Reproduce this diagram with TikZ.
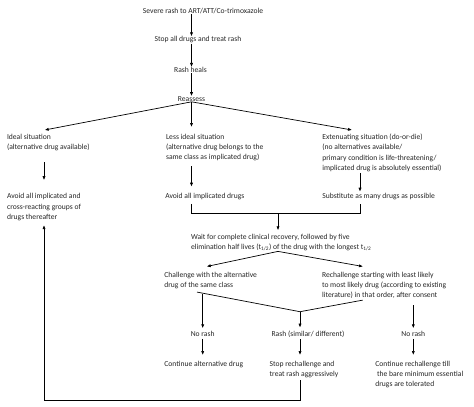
\documentclass[tikz,border=0pt]{standalone}
\usepackage{fontspec}
\setmainfont{Carlito}
\usepackage{tikz}
\usetikzlibrary{arrows.meta}
\newcommand\flowfont{\fontsize{7.6}{10.3}\selectfont}
\tikzset{
  txt/.style={inner sep=0pt, font=\flowfont, text=black!85},
  blk/.style={txt, align=left, anchor=north west},
  arr/.style={-{Latex[length=4pt,width=3.2pt]}},
}

\begin{document}
\begin{tikzpicture}[x=1pt,y=-1pt,line width=0.7pt]
  \useasboundingbox (0,0) rectangle (474,407);
  \fill[white] (0,0) rectangle (474,407);

  \node[txt] (sev) at (203,11) {Severe rash to ART/ATT/Co-trimoxazole};
  \node[txt] (stop) at (198,40) {Stop all drugs and treat rash};
  \node[txt] (heal) at (190.5,70) {Rash heals};
  \node[txt] (reas) at (191.5,99) {Reassess};

  \node[blk] (ideal) at (6.7,133.5) {Ideal situation\\(alternative drug available)};
  \node[blk] (less) at (165.7,133.5) {Less ideal situation\\(alternative drug belongs to the\\same class as implicated drug)};
  \node[blk] (ext) at (322,133.5) {Extenuating situation (do-or-die)\\(no alternatives available/\\primary condition is life-threatening/\\implicated drug is absolutely essential)};

  \node[blk] (avcr) at (6.7,193.2) {Avoid all implicated and\\cross-reacting groups of\\drugs thereafter};
  \node[blk] (avim) at (165,193.2) {Avoid all implicated drugs};
  \node[blk] (subs) at (322,193.2) {Substitute as many drugs as possible};

  \node[blk] (wait) at (190.7,233.8) {Wait for complete clinical recovery, followed by five\\elimination half lives (t\textsubscript{1/2}) of the drug with the longest t\textsubscript{1/2}};

  \node[blk] (chal) at (164,271.5) {Challenge with the alternative\\drug of the same class};
  \node[blk] (rech) at (321.7,271.5) {Rechallenge starting with least likely\\to most likely drug (according to existing\\literature) in that order, after consent};

  \node[txt] (nr1) at (202.7,334.3) {No rash};
  \node[txt] (rsim) at (308,334.3) {Rash (similar/ different)};
  \node[txt] (nr2) at (413.3,334.3) {No rash};

  \node[blk] (calt) at (164,360.5) {Continue alternative drug};
  \node[blk] (srch) at (269.3,360.5) {Stop rechallenge and\\treat rash aggressively};
  \node[blk] (crch) at (375,360.5) {Continue rechallenge till\\\ the bare minimum essential\\drugs are tolerated};

  \coordinate (colL) at (44,0);
  \coordinate (colR) at (360,0);
  \coordinate (jn) at (278,213.3);
  \coordinate (cv) at (300,311.7);
  \coordinate (lp) at (44,400);

  %top chain
  \draw[arr] (sev.south -| reas) -- (stop.north -| reas);
  \draw[arr] (stop.south -| reas) -- (heal.north -| reas);
  \draw[arr] (heal.south -| reas) -- (reas.north);

  %reassess>situations
  \draw[arr] (reas.south) -- ([xshift=38pt,yshift=3.5pt]ideal.north west);
  \draw[arr,shorten >=6.5pt] (reas.south) -- (less.north -| reas);
  \draw[arr] (reas.south) -- ([xshift=30pt,yshift=3.5pt]ext.north west);

  %situations>actions
  \draw[arr,shorten <=11pt,shorten >=13pt] (ideal.south -| colL) -- (avcr.north -| colL);
  \draw[arr,shorten <=5pt,shorten >=6.5pt] (less.south -| reas) -- (avim.north -| reas);
  \draw[arr,shorten <=1pt,shorten >=1.5pt] (ext.south -| colR) -- (subs.north -| colR);

  %merge>wait
  \draw[shorten <=3.5pt,shorten >=3.5pt] (avim.south -| reas) |- (jn) -| (subs.south -| colR);
  \draw[arr,shorten >=3.5pt] (jn) -- (wait.north -| jn);

  %wait>challenge
  \draw[arr] (wait.south -| jn) -- ([xshift=42.7pt,yshift=5pt]chal.north west);
  \draw[arr] (wait.south -| jn) -- ([xshift=41.3pt,yshift=5pt]rech.north west);

  %challenge>outcomes
  \draw ([xshift=33pt,yshift=-3pt]chal.south west) -- (cv);
  \draw ([xshift=41pt,yshift=-1pt]rech.south west) -- (cv);
  \draw[arr,shorten >=3pt] (cv) -- (rsim.north -| cv);
  \draw[arr,shorten <=5pt,shorten >=3pt] (chal.south -| nr1) -- (nr1.north);
  \draw[arr,shorten <=6pt,shorten >=3pt] (rech.south -| nr2) -- (nr2.north);

  %outcomes>actions
  \draw[arr,shorten <=1.5pt,shorten >=5.5pt] (nr1.south) -- (calt.north -| nr1);
  \draw[arr,shorten <=1.5pt,shorten >=5.5pt] (rsim.south -| cv) -- (srch.north -| cv);
  \draw[arr,shorten <=1.5pt,shorten >=5.5pt] (nr2.south) -- (crch.north -| nr2);

  %loop back
  \draw[arr,shorten <=2pt,shorten >=4pt] (srch.south -| cv) |- (lp) -- (avcr.south -| lp);
\end{tikzpicture}
\end{document}
